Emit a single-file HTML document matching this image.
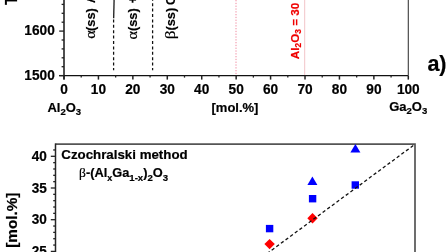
<!DOCTYPE html>
<html><head><meta charset="utf-8"><style>
html,body{margin:0;padding:0;background:#fff;width:448px;height:252px;overflow:hidden}
svg{display:block}
text{font-family:"Liberation Sans",Arial,sans-serif;fill:#000;stroke:#000;stroke-width:0.2px}
.b{font-weight:bold}
.r{font-weight:normal}
.sym{font-family:"Liberation Serif","DejaVu Serif",serif;font-weight:normal}
</style></head><body>
<svg width="448" height="252" viewBox="0 0 448 252">
<line x1="64" y1="-2" x2="64" y2="79.6" stroke="#3c3c3c" stroke-width="1.8"/>
<line x1="59.2" y1="75.6" x2="408.3" y2="75.6" stroke="#111" stroke-width="1.4"/>
<line x1="408.3" y1="-2" x2="408.3" y2="75.6" stroke="#3a3a3a" stroke-width="1.1"/>
<line x1="59.2" y1="75.60" x2="64" y2="75.60" stroke="#222" stroke-width="1.3"/>
<line x1="61.6" y1="66.70" x2="64" y2="66.70" stroke="#222" stroke-width="1.3"/>
<line x1="61.6" y1="57.80" x2="64" y2="57.80" stroke="#222" stroke-width="1.3"/>
<line x1="61.6" y1="48.90" x2="64" y2="48.90" stroke="#222" stroke-width="1.3"/>
<line x1="61.6" y1="40.00" x2="64" y2="40.00" stroke="#222" stroke-width="1.3"/>
<line x1="59.2" y1="31.10" x2="64" y2="31.10" stroke="#222" stroke-width="1.3"/>
<line x1="61.6" y1="22.20" x2="64" y2="22.20" stroke="#222" stroke-width="1.3"/>
<line x1="61.6" y1="13.30" x2="64" y2="13.30" stroke="#222" stroke-width="1.3"/>
<line x1="61.6" y1="4.40" x2="64" y2="4.40" stroke="#222" stroke-width="1.3"/>
<line x1="61.6" y1="-4.50" x2="64" y2="-4.50" stroke="#222" stroke-width="1.3"/>
<line x1="59.2" y1="-13.40" x2="64" y2="-13.40" stroke="#222" stroke-width="1.3"/>
<line x1="64.00" y1="75.6" x2="64.00" y2="79.6" stroke="#222" stroke-width="1.5"/>
<line x1="81.22" y1="75.6" x2="81.22" y2="77.6" stroke="#222" stroke-width="1.3"/>
<line x1="98.43" y1="75.6" x2="98.43" y2="79.6" stroke="#222" stroke-width="1.5"/>
<line x1="115.65" y1="75.6" x2="115.65" y2="77.6" stroke="#222" stroke-width="1.3"/>
<line x1="132.86" y1="75.6" x2="132.86" y2="79.6" stroke="#222" stroke-width="1.5"/>
<line x1="150.07" y1="75.6" x2="150.07" y2="77.6" stroke="#222" stroke-width="1.3"/>
<line x1="167.29" y1="75.6" x2="167.29" y2="79.6" stroke="#222" stroke-width="1.5"/>
<line x1="184.50" y1="75.6" x2="184.50" y2="77.6" stroke="#222" stroke-width="1.3"/>
<line x1="201.72" y1="75.6" x2="201.72" y2="79.6" stroke="#222" stroke-width="1.5"/>
<line x1="218.94" y1="75.6" x2="218.94" y2="77.6" stroke="#222" stroke-width="1.3"/>
<line x1="236.15" y1="75.6" x2="236.15" y2="79.6" stroke="#222" stroke-width="1.5"/>
<line x1="253.37" y1="75.6" x2="253.37" y2="77.6" stroke="#222" stroke-width="1.3"/>
<line x1="270.58" y1="75.6" x2="270.58" y2="79.6" stroke="#222" stroke-width="1.5"/>
<line x1="287.80" y1="75.6" x2="287.80" y2="77.6" stroke="#222" stroke-width="1.3"/>
<line x1="305.01" y1="75.6" x2="305.01" y2="79.6" stroke="#222" stroke-width="1.5"/>
<line x1="322.23" y1="75.6" x2="322.23" y2="77.6" stroke="#222" stroke-width="1.3"/>
<line x1="339.44" y1="75.6" x2="339.44" y2="79.6" stroke="#222" stroke-width="1.5"/>
<line x1="356.66" y1="75.6" x2="356.66" y2="77.6" stroke="#222" stroke-width="1.3"/>
<line x1="373.87" y1="75.6" x2="373.87" y2="79.6" stroke="#222" stroke-width="1.5"/>
<line x1="391.08" y1="75.6" x2="391.08" y2="77.6" stroke="#222" stroke-width="1.3"/>
<line x1="408.30" y1="75.6" x2="408.30" y2="79.6" stroke="#222" stroke-width="1.5"/>
<text transform="translate(64.00,94) scale(1,1.09)" class="b" font-size="13.7" text-anchor="middle">0</text>
<text transform="translate(98.43,94) scale(1,1.09)" class="b" font-size="13.7" text-anchor="middle">10</text>
<text transform="translate(132.86,94) scale(1,1.09)" class="b" font-size="13.7" text-anchor="middle">20</text>
<text transform="translate(167.29,94) scale(1,1.09)" class="b" font-size="13.7" text-anchor="middle">30</text>
<text transform="translate(201.72,94) scale(1,1.09)" class="b" font-size="13.7" text-anchor="middle">40</text>
<text transform="translate(236.15,94) scale(1,1.09)" class="b" font-size="13.7" text-anchor="middle">50</text>
<text transform="translate(270.58,94) scale(1,1.09)" class="b" font-size="13.7" text-anchor="middle">60</text>
<text transform="translate(305.01,94) scale(1,1.09)" class="b" font-size="13.7" text-anchor="middle">70</text>
<text transform="translate(339.44,94) scale(1,1.09)" class="b" font-size="13.7" text-anchor="middle">80</text>
<text transform="translate(373.87,94) scale(1,1.09)" class="b" font-size="13.7" text-anchor="middle">90</text>
<text transform="translate(408.30,94) scale(1,1.09)" class="b" font-size="13.7" text-anchor="middle">100</text>
<text transform="translate(54.8,35.4) scale(1,1.09)" class="b" font-size="13.7" text-anchor="end">1600</text>
<text transform="translate(54.8,79.6) scale(1,1.09)" class="b" font-size="13.7" text-anchor="end">1500</text>
<polyline points="114.1,-1 113.7,18.2" fill="none" stroke="#111" stroke-width="1.25"/>
<line x1="113.6" y1="19.4" x2="113.6" y2="70.2" stroke="#111" stroke-width="1.25" stroke-dasharray="3 2.4"/>
<line x1="152.6" y1="-2.2" x2="152.6" y2="70.2" stroke="#111" stroke-width="1.25" stroke-dasharray="3 2.4"/>
<line x1="236" y1="0" x2="236" y2="75" stroke="#f08aa0" stroke-width="1" stroke-dasharray="1.3 1.5"/>
<line x1="304.7" y1="0" x2="304.7" y2="75" stroke="#f2c4c8" stroke-width="1"/>
<text transform="translate(94.6,38.7) rotate(-90) scale(1.08,1)" class="sym" font-size="15" >α</text>
<text transform="translate(94.6,31.0) rotate(-90)" class="b" font-size="12.8" >(ss)</text>
<text transform="translate(94.6,3.0) rotate(-90)" class="b" font-size="12" >Al<tspan font-size="8.5" dy="2">2</tspan><tspan dy="-2">O</tspan><tspan font-size="8.5" dy="2">3</tspan></text>
<text transform="translate(136.8,39.4) rotate(-90) scale(1.08,1)" class="sym" font-size="15" >α</text>
<text transform="translate(136.8,31.1) rotate(-90)" class="b" font-size="12.8" >(ss)</text>
<text transform="translate(136.8,3.2) rotate(-90)" class="b" font-size="12" >+ </text>
<text transform="translate(174.6,39.2) rotate(-90) scale(1.2,1)" class="sym" font-size="14.5" >β</text>
<text transform="translate(174.6,30.6) rotate(-90)" class="b" font-size="12.8" >(ss)</text>
<text transform="translate(174.6,5.0) rotate(-90)" class="b" font-size="12" >Ga<tspan font-size="8.5" dy="2">2</tspan><tspan dy="-2">O</tspan><tspan font-size="8.5" dy="2">3</tspan></text>
<text transform="translate(298.8,59.2) rotate(-90)" class="b" font-size="11.7" style="fill:#f00000;stroke:#f00000">Al<tspan font-size="8.4" dy="2.5">2</tspan><tspan dy="-2.5">O</tspan><tspan font-size="8.4" dy="2.5">3</tspan><tspan dy="-2.5"> = 30</tspan></text>
<text transform="translate(16.8,5.0) rotate(-90)" class="b" font-size="15.7" >T [°C]</text>
<text x="427.4" y="71.3" class="b" font-size="21.5">a)</text>
<text x="47.4" y="111.9" class="b" font-size="13">Al<tspan font-size="9.5" dy="3">2</tspan><tspan dy="-3">O</tspan><tspan font-size="9.5" dy="3">3</tspan></text>
<text x="211.5" y="111.6" class="b" font-size="13">[mol.%]</text>
<text x="389.2" y="111" class="b" font-size="13">Ga<tspan font-size="9.5" dy="3">2</tspan><tspan dy="-3">O</tspan><tspan font-size="9.5" dy="3">3</tspan></text>
<path d="M55.5,144.2 H415 V260" fill="none" stroke="#555" stroke-width="1.7"/>
<line x1="55.5" y1="260" x2="55.5" y2="143.39999999999998" stroke="#262626" stroke-width="1.5"/>
<line x1="50.8" y1="283.10" x2="55.5" y2="283.10" stroke="#222" stroke-width="1.3"/>
<line x1="53.2" y1="276.76" x2="55.5" y2="276.76" stroke="#222" stroke-width="1.3"/>
<line x1="53.2" y1="270.42" x2="55.5" y2="270.42" stroke="#222" stroke-width="1.3"/>
<line x1="53.2" y1="264.08" x2="55.5" y2="264.08" stroke="#222" stroke-width="1.3"/>
<line x1="53.2" y1="257.74" x2="55.5" y2="257.74" stroke="#222" stroke-width="1.3"/>
<line x1="50.8" y1="251.40" x2="55.5" y2="251.40" stroke="#222" stroke-width="1.3"/>
<line x1="53.2" y1="245.06" x2="55.5" y2="245.06" stroke="#222" stroke-width="1.3"/>
<line x1="53.2" y1="238.72" x2="55.5" y2="238.72" stroke="#222" stroke-width="1.3"/>
<line x1="53.2" y1="232.38" x2="55.5" y2="232.38" stroke="#222" stroke-width="1.3"/>
<line x1="53.2" y1="226.04" x2="55.5" y2="226.04" stroke="#222" stroke-width="1.3"/>
<line x1="50.8" y1="219.70" x2="55.5" y2="219.70" stroke="#222" stroke-width="1.3"/>
<line x1="53.2" y1="213.36" x2="55.5" y2="213.36" stroke="#222" stroke-width="1.3"/>
<line x1="53.2" y1="207.02" x2="55.5" y2="207.02" stroke="#222" stroke-width="1.3"/>
<line x1="53.2" y1="200.68" x2="55.5" y2="200.68" stroke="#222" stroke-width="1.3"/>
<line x1="53.2" y1="194.34" x2="55.5" y2="194.34" stroke="#222" stroke-width="1.3"/>
<line x1="50.8" y1="188.00" x2="55.5" y2="188.00" stroke="#222" stroke-width="1.3"/>
<line x1="53.2" y1="181.66" x2="55.5" y2="181.66" stroke="#222" stroke-width="1.3"/>
<line x1="53.2" y1="175.32" x2="55.5" y2="175.32" stroke="#222" stroke-width="1.3"/>
<line x1="53.2" y1="168.98" x2="55.5" y2="168.98" stroke="#222" stroke-width="1.3"/>
<line x1="53.2" y1="162.64" x2="55.5" y2="162.64" stroke="#222" stroke-width="1.3"/>
<line x1="50.8" y1="156.30" x2="55.5" y2="156.30" stroke="#222" stroke-width="1.3"/>
<line x1="53.2" y1="149.96" x2="55.5" y2="149.96" stroke="#222" stroke-width="1.3"/>
<text transform="translate(46.9,161.00) scale(1,1.12)" class="b" font-size="13.6" text-anchor="end">40</text>
<text transform="translate(46.9,192.70) scale(1,1.12)" class="b" font-size="13.6" text-anchor="end">35</text>
<text transform="translate(46.9,224.40) scale(1,1.12)" class="b" font-size="13.6" text-anchor="end">30</text>
<text transform="translate(46.9,256.10) scale(1,1.12)" class="b" font-size="13.6" text-anchor="end">25</text>
<text transform="translate(17.0,247.8) rotate(-90)" class="b" font-size="15.3" >[mol.%]</text>
<text x="61.3" y="158.8" class="b" font-size="13.3">Czochralski method</text>
<text x="79" y="177" class="b" font-size="12.8"><tspan class="sym" font-weight="normal" font-size="13.5">β</tspan>-(Al<tspan font-size="9" dy="3.5">x</tspan><tspan dy="-3.5">Ga</tspan><tspan font-size="9.6" dy="3.8">1-x</tspan><tspan dy="-3.8">)</tspan><tspan font-size="9.6" dy="3.8">2</tspan><tspan dy="-3.8">O</tspan><tspan font-size="9.6" dy="3.8">3</tspan></text>
<rect x="351.60" y="181.30" width="7.4" height="7.4" fill="#0000ff"/>
<rect x="308.90" y="195.00" width="7.4" height="7.4" fill="#0000ff"/>
<rect x="265.90" y="224.90" width="7.4" height="7.4" fill="#0000ff"/>
<polygon points="355.4,143.9 360.4,152.6 350.4,152.6" fill="#0000ff"/>
<polygon points="312.4,176.4 317.4,185.0 307.4,185.0" fill="#0000ff"/>
<polygon points="312.5,213.10000000000002 317.7,218.3 312.5,223.5 307.3,218.3" fill="#ff0000"/>
<polygon points="269.6,238.9 274.8,244.1 269.6,249.29999999999998 264.40000000000003,244.1" fill="#ff0000"/>
<line x1="413.3" y1="145.5" x2="250" y2="266.18" stroke="#111" stroke-width="1.3" stroke-dasharray="3.3 2.46"/>
</svg>
</body></html>
